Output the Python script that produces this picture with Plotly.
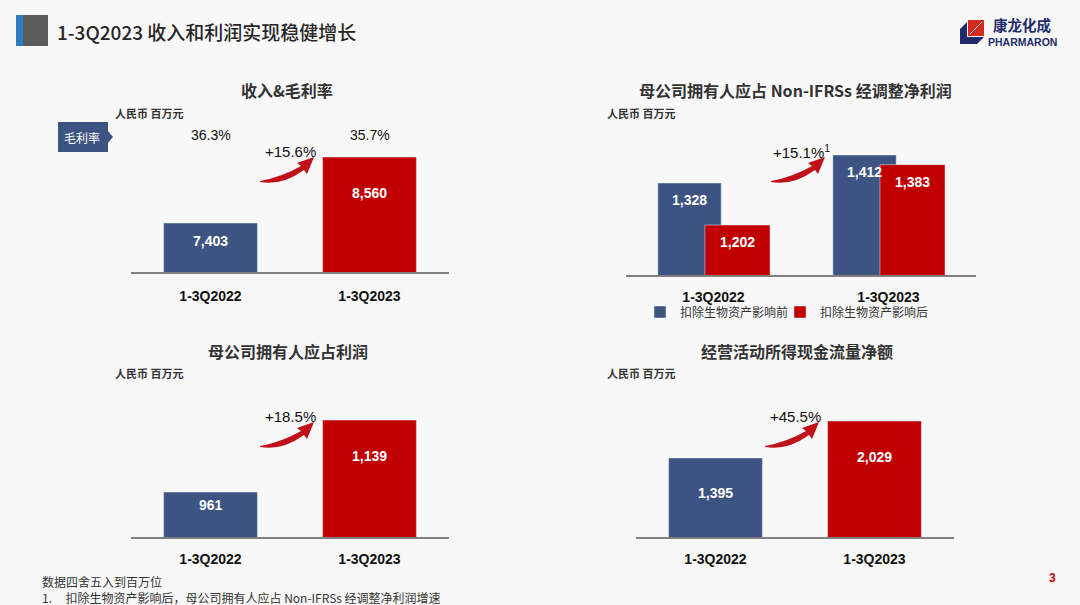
import plotly.graph_objects as go

# ---------------- data ----------------
categories = ["1-3Q2022", "1-3Q2023"]
revenue = [7403, 8560]
gross_margin = [36.3, 35.7]
revenue_growth = 15.6
nonifrs_before = [1328, 1412]
nonifrs_after = [1202, 1383]
nonifrs_growth = 15.1
series_names = ["扣除生物资产影响前", "扣除生物资产影响后"]
parent_profit = [961, 1139]
profit_growth = 18.5
cash_flow = [1395, 2029]
cash_growth = 45.5

# ---------------- style ----------------
W, H = 1080, 605
BLUE = "#3d5382"
RED = "#c00000"
BG = "#f8f8f8"
LATIN = "Liberation Sans, Noto Sans CJK SC, sans-serif"
CJK = "Noto Sans CJK SC, Liberation Sans, sans-serif"


def PX(x):
    return x / W


def PY(y):
    return 1 - y / H


fig = go.Figure()

# panel 1: revenue
fig.add_trace(go.Bar(x=categories, y=revenue, marker_color=[BLUE, RED], width=0.59,
                     xaxis="x", yaxis="y", showlegend=False))
# panel 2: non-IFRS profit (two series, overlapping)
fig.add_trace(go.Bar(x=categories, y=nonifrs_before, name=series_names[0], marker_color=BLUE,
                     offset=-0.318, width=0.362, xaxis="x2", yaxis="y2", showlegend=True, legend="legend"))
fig.add_trace(go.Bar(x=categories, y=nonifrs_after, name=series_names[1], marker_color=RED,
                     offset=-0.049, width=0.372, xaxis="x2", yaxis="y2", showlegend=True, legend="legend2"))
# panel 3: profit attributable
fig.add_trace(go.Bar(x=categories, y=parent_profit, marker_color=[BLUE, RED], width=0.59,
                     xaxis="x3", yaxis="y3", showlegend=False))
# panel 4: operating cash flow
fig.add_trace(go.Bar(x=categories, y=cash_flow, marker_color=[BLUE, RED], width=0.59,
                     xaxis="x4", yaxis="y4", showlegend=False))

panels = {
    "": dict(xd=(131, 449), yd=(272, 120), yr=(6544, 9209), tl=10),
    "2": dict(xd=(626, 976), yd=(275, 120), yr=(1052, 1517), tl=8),
    "3": dict(xd=(131, 449), yd=(537, 380), yr=(850, 1238), tl=8),
    "4": dict(xd=(636, 954), yd=(537, 380), yr=(41, 2731), tl=8),
}
for k, p in panels.items():
    fig.layout["xaxis" + k] = dict(
        domain=[PX(p["xd"][0]), PX(p["xd"][1])], anchor="y" + k, type="category",
        range=[-0.5, 1.5], showline=True, linecolor="#808080", linewidth=1.5,
        showgrid=False, zeroline=False, ticks="outside", ticklen=p["tl"],
        tickcolor="rgba(0,0,0,0)", fixedrange=True,
        tickfont=dict(family=LATIN, size=14, color="#111111", weight="bold"))
    fig.layout["yaxis" + k] = dict(
        domain=[PY(p["yd"][0]), PY(p["yd"][1])], anchor="x" + k, range=list(p["yr"]),
        visible=False, showgrid=False, zeroline=False, fixedrange=True)

ann = []
shapes = []


def value_labels(xref, yref, xs, vals, shifts):
    for x, v, s in zip(xs, vals, shifts):
        ann.append(dict(xref=xref, yref=yref, x=x, y=v, yshift=s, text=f"{v:,}",
                        showarrow=False, font=dict(family=LATIN, size=14, color="white", weight="bold")))


value_labels("x", "y", [0, 1], revenue, [-18, -36])
value_labels("x2", "y2", [-0.318 + 0.181, -0.318 + 0.181 + 1], nonifrs_before, [-17, -17])
value_labels("x2", "y2", [-0.049 + 0.186, -0.049 + 0.186 + 1], nonifrs_after, [-17, -17])
value_labels("x3", "y3", [0, 1], parent_profit, [-13, -36])
value_labels("x4", "y4", [0, 1], cash_flow, [-35, -36])

# growth labels + curved arrows
ARROW = "M-30,-29 Q-8,-25 11,-14 L7,-11 L24,-5 L17,-22 L14,-18 Q-8,-34 -30,-30 Z"
for xref, ylab, g, sup in [("x", 152, revenue_growth, ""), ("x2", 152, nonifrs_growth, "<sup>1</sup>"),
                           ("x3", 417, profit_growth, ""), ("x4", 417, cash_growth, "")]:
    ann.append(dict(xref=xref, yref="paper", x=0.5, y=PY(ylab), text=f"+{g:.1f}%{sup}", showarrow=False,
                    font=dict(family=LATIN, size=15, color="#111111")))
    shapes.append(dict(type="path", xref=xref, yref="paper", xsizemode="pixel", ysizemode="pixel",
                       xanchor=0.5, yanchor=PY(ylab), path=ARROW, fillcolor="#c0101a",
                       line=dict(width=0)))

# gross margin labels
for i, gm in enumerate(gross_margin):
    ann.append(dict(xref="x", yref="paper", x=i, y=PY(135), text=f"{gm:.1f}%", showarrow=False,
                    font=dict(family=LATIN, size=14, color="#111111")))

# panel titles
for txt, x, y in [("收入&毛利率", 287, 90), ("母公司拥有人应占 Non-IFRSs 经调整净利润", 795, 90),
                  ("母公司拥有人应占利润", 288, 351), ("经营活动所得现金流量净额", 797, 351)]:
    ann.append(dict(xref="paper", yref="paper", x=PX(x), y=PY(y), text=txt, showarrow=False,
                    font=dict(family=CJK, size=16, color="#333333", weight="bold")))

# unit labels
for x, y in [(113, 113), (605, 113), (113, 373), (605, 373)]:
    ann.append(dict(xref="paper", yref="paper", x=PX(x), y=PY(y), xanchor="left", text="人民币 百万元",
                    showarrow=False, font=dict(family=CJK, size=11, color="#333333", weight="bold")))

# gross margin tag
shapes.append(dict(type="path", xref="paper", yref="paper",
                   path=f"M{PX(58)},{PY(122)} L{PX(108)},{PY(122)} L{PX(108)},{PY(131)} L{PX(113)},{PY(137)} "
                        f"L{PX(108)},{PY(143)} L{PX(108)},{PY(152)} L{PX(58)},{PY(152)} Z",
                   fillcolor=BLUE, line=dict(width=0)))
ann.append(dict(xref="paper", yref="paper", x=PX(82), y=PY(137), text="毛利率", showarrow=False,
                font=dict(family=CJK, size=12, color="white")))

# header
shapes.append(dict(type="rect", xref="paper", yref="paper", x0=PX(16), x1=PX(23), y0=PY(46), y1=PY(15),
                   fillcolor="#2e7dbf", line=dict(width=0)))
shapes.append(dict(type="rect", xref="paper", yref="paper", x0=PX(23), x1=PX(48), y0=PY(46), y1=PY(15),
                   fillcolor="#5a5a5a", line=dict(width=0)))
ann.append(dict(xref="paper", yref="paper", x=PX(55), y=PY(31), xanchor="left",
                text="1-3Q2023 收入和利润实现稳健增长", showarrow=False,
                font=dict(family=CJK, size=19, color="#262626", weight=500)))

# logo
NAVY = "#1f2b6b"
shapes.append(dict(type="path", xref="paper", yref="paper",
                   path=f"M{PX(960)},{PY(29)} L{PX(967)},{PY(22)} L{PX(967)},{PY(37)} L{PX(984)},{PY(37)} "
                        f"L{PX(977)},{PY(44)} L{PX(960)},{PY(44)} Z",
                   fillcolor=NAVY, line=dict(width=0)))
shapes.append(dict(type="rect", xref="paper", yref="paper", x0=PX(968), x1=PX(984), y0=PY(36), y1=PY(20),
                   fillcolor="#d42b1e", line=dict(width=0)))
shapes.append(dict(type="line", xref="paper", yref="paper", x0=PX(970), x1=PX(982), y0=PY(34), y1=PY(22),
                   line=dict(color="white", width=1)))
ann.append(dict(xref="paper", yref="paper", x=PX(1022), y=PY(25), text="康龙化成", showarrow=False,
                font=dict(family=CJK, size=14.5, color=NAVY, weight="bold")))
ann.append(dict(xref="paper", yref="paper", x=PX(1022), y=PY(42), text="PHARMARON", showarrow=False,
                font=dict(family=LATIN, size=10.5, color=NAVY, weight="bold")))

# footer
ann.append(dict(xref="paper", yref="paper", x=PX(40), y=PY(581), xanchor="left", text="数据四舍五入到百万位",
                showarrow=False, font=dict(family=CJK, size=12, color="#333333")))
ann.append(dict(xref="paper", yref="paper", x=PX(40), y=PY(597), xanchor="left",
                text="1.     扣除生物资产影响后，母公司拥有人应占 Non-IFRSs 经调整净利润增速",
                showarrow=False, font=dict(family=CJK, size=12, color="#333333")))
ann.append(dict(xref="paper", yref="paper", x=PX(1052), y=PY(578), text="3", showarrow=False,
                font=dict(family=LATIN, size=12, color=RED, weight="bold")))

for a in ann:
    a.setdefault("xanchor", "center")
    a.setdefault("yanchor", "middle")

legend_common = dict(orientation="h", xanchor="left", yanchor="middle", bgcolor="rgba(0,0,0,0)",
                     font=dict(family=CJK, size=12, color="#333333"), itemwidth=30)

fig.update_layout(
    width=W, height=H, autosize=False,
    margin=dict(l=0, r=0, t=0, b=0),
    paper_bgcolor=BG, plot_bgcolor=BG,
    barmode="overlay",
    annotations=ann, shapes=shapes,
    font=dict(family=LATIN, color="#333333"),
    legend=dict(x=PX(640), y=PY(312), **legend_common),
    legend2=dict(x=PX(780), y=PY(312), **legend_common),
)

fig.write_html("out.html", config={"displayModeBar": False},
               post_script="document.body.style.margin='0';document.body.style.overflow='hidden';")
